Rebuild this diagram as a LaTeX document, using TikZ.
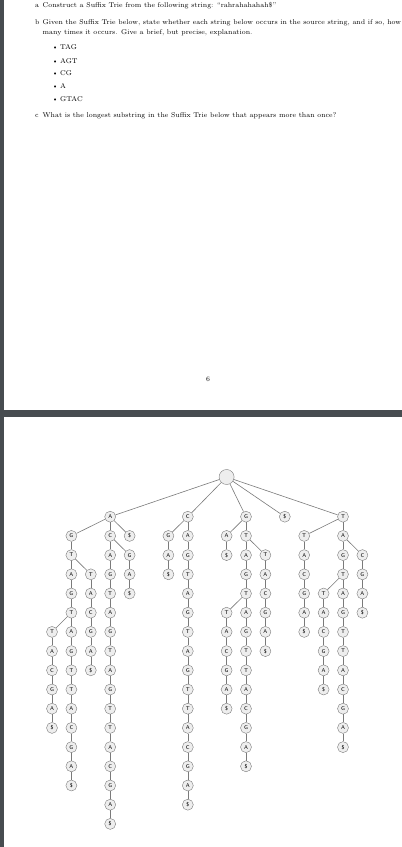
\documentclass[tikz,border=0pt]{standalone}
\usepackage{fontspec}
\usepackage{tikz}
\usetikzlibrary{positioning}
\definecolor{barGray}{HTML}{474C50}
\definecolor{trieLine}{HTML}{7A7A7A}
\definecolor{trieFill}{HTML}{EEEEEE}

\begin{document}
\begin{tikzpicture}[x=1pt,y=-1pt,
    trie/.style={circle,draw=trieLine,fill=trieFill,minimum size=11pt,inner sep=0pt,font=\sffamily\fontsize{5.5}{6}\selectfont},
    rootnode/.style={trie,minimum size=15pt},
    link/.style={draw=trieLine,line width=0.6pt},
    qtext/.style={anchor=base west,inner sep=0pt,font=\fontsize{6.95}{9}\selectfont}]
    \useasboundingbox (0,0) rectangle (402,847);

    % page frame
    \fill[barGray] (0,0) rectangle (4,847);
    \fill[barGray] (0,410) rectangle (402,417);

    % questions
    \node[qtext] (qa) at (35,7.5) {\makebox[7.5pt][l]{a}Construct a Suffix Trie from the following string: ``rahrahahahah\$''};
    \node[qtext] (qb) at (35,24.5) {\makebox[7.5pt][l]{b}Given the Suffix Trie below, state whether each string below occurs in the source string, and if so, how};
    \node[qtext] (qb2) at (42.5,34.5) {many times it occurs. Give a brief, but precise, explanation.};
    \node[qtext] (b1) at (52,49.5) {\makebox[8pt][l]{\textbullet}TAG};
    \node[qtext] (b2) at (52,63) {\makebox[8pt][l]{\textbullet}AGT};
    \node[qtext] (b3) at (52,75.5) {\makebox[8pt][l]{\textbullet}CG};
    \node[qtext] (b4) at (52,88.5) {\makebox[8pt][l]{\textbullet}A};
    \node[qtext] (b5) at (52,101.5) {\makebox[8pt][l]{\textbullet}GTAC};
    \node[qtext] (qc) at (35,117.5) {\makebox[7.5pt][l]{c}What is the longest substring in the Suffix Trie below that appears more than once?};
    \node[font=\fontsize{6.95}{9}\selectfont] (pagenum) at (208,379) {6};

    % suffix trie
    \node[rootnode] (root) at (226.6,477) {};
    \foreach \c/\l/\p/\word in {
        3/1/root/{A,C,A,G,T,A,G,T,A,G,T,T,A,C,G,A,\$},
        1/2/n3-1/{G,T,A,G,T,A,G,T,T,A,C,G,A,\$},
        2/4/n1-3/{T,A,C,G,A,\$},
        0/7/n1-6/{T,A,C,G,A,\$},
        4/2/n3-1/{\$},
        4/3/n3-2/{G,A,\$},
        7/1/root/{C,A,G,T,A,G,T,A,G,T,T,A,C,G,A,\$},
        6/2/n7-1/{G,A,\$},
        10/1/root/{G,T,A,G,T,A,G,T,T,A,C,G,A,\$},
        9/2/n10-1/{A,\$},
        11/3/n10-2/{T,A,C,G,A,\$},
        9/6/n10-5/{T,A,C,G,A,\$},
        12/1/root/{\$},
        15/1/root/{T,A,G,T,A,G,T,T,A,C,G,A,\$},
        13/2/n15-1/{T,A,C,G,A,\$},
        16/3/n15-2/{C,G,A,\$},
        14/5/n15-4/{T,A,C,G,A,\$}}{
        \foreach \ch [count=\k from \l] in \word {
            \pgfmathtruncatemacro\j{\k-1}
            \ifnum\k=\l \edef\from{\p}\else \edef\from{n\c-\j}\fi
            \node[trie] (n\c-\k) at ({52+\c*19.4},{516.7+(\k-1)*19.2}) {\ch};
            \draw[link] (\from) -- (n\c-\k);
        }
    }
\end{tikzpicture}
\end{document}
